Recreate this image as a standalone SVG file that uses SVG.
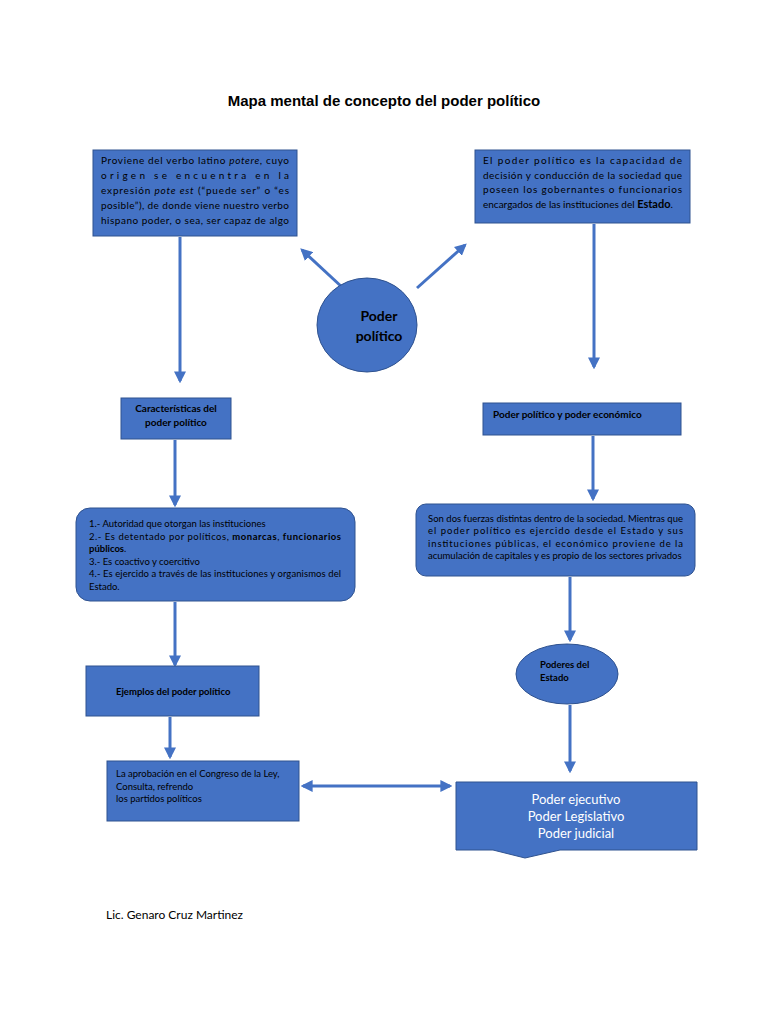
<svg xmlns="http://www.w3.org/2000/svg" width="768" height="1024" viewBox="0 0 768 1024">
<style>
.n{fill:#4472C4;stroke:#2F528F;stroke-width:1}
text{font-family:Lato,"Open Sans",sans-serif;fill:#000}
.s{font-size:9.5px}
.m{font-size:10px}
.b{font-weight:bold}
.w{fill:#fff;font-size:13px}
.c{stroke:#4472C4;stroke-width:3;fill:none}
</style>
<defs>
<marker id="a" viewBox="0 0 10 10" refX="8" refY="5" markerWidth="4" markerHeight="4" orient="auto-start-reverse"><path d="M0,0L10,5L0,10z" fill="#4472C4"/></marker>
</defs>
<rect width="768" height="1024" fill="#fff"/>
<text x="384" y="106" text-anchor="middle" style="font-family:'Liberation Sans',Arial,sans-serif;font-size:15px;font-weight:bold">Mapa mental de concepto del poder político</text>
<g id="connectors">
<line class="c" x1="343" y1="288" x2="302" y2="250" marker-end="url(#a)"/>
<line class="c" x1="417" y1="288" x2="465" y2="245" marker-end="url(#a)"/>
<line class="c" x1="180" y1="237" x2="180" y2="381" marker-end="url(#a)"/>
<line class="c" x1="594" y1="224" x2="594" y2="367" marker-end="url(#a)"/>
<line class="c" x1="175" y1="440" x2="175" y2="505" marker-end="url(#a)"/>
<line class="c" x1="593" y1="436" x2="593" y2="499" marker-end="url(#a)"/>
<line class="c" x1="175" y1="602" x2="175" y2="665" marker-end="url(#a)"/>
<line class="c" x1="570" y1="577" x2="570" y2="640" marker-end="url(#a)"/>
<line class="c" x1="170" y1="717" x2="170" y2="757" marker-end="url(#a)"/>
<line class="c" x1="570" y1="705" x2="570" y2="771" marker-end="url(#a)"/>
<line class="c" x1="303" y1="786" x2="450" y2="786" marker-start="url(#a)" marker-end="url(#a)"/>
</g>
<g id="n1">
<rect class="n" x="93" y="150" width="204" height="86"/>
<text class="m" x="101" y="164" textLength="188" lengthAdjust="spacing">Proviene del verbo latino <tspan font-style="italic">potere</tspan>, cuyo</text>
<text class="m" x="101" y="179" textLength="188" lengthAdjust="spacing">origen se encuentra en la</text>
<text class="m" x="101" y="194" textLength="188" lengthAdjust="spacing">expresión <tspan font-style="italic">pote est</tspan> (“puede ser” o “es</text>
<text class="m" x="101" y="209" textLength="188" lengthAdjust="spacing">posible”), de donde viene nuestro verbo</text>
<text class="m" x="101" y="224" textLength="188" lengthAdjust="spacing">hispano poder, o sea, ser capaz de algo</text>
</g>
<g id="n2">
<rect class="n" x="475" y="150" width="215" height="73"/>
<text class="m" x="483" y="164" textLength="199" lengthAdjust="spacing">El poder político es la capacidad de</text>
<text class="m" x="483" y="179" textLength="199" lengthAdjust="spacing">decisión y conducción de la sociedad que</text>
<text class="m" x="483" y="193" textLength="199" lengthAdjust="spacing">poseen los gobernantes o funcionarios</text>
<text class="m" x="483" y="208">encargados de las instituciones del <tspan font-weight="bold" font-size="11">Estado</tspan>.</text>
</g>
<g id="n3">
<ellipse class="n" cx="367" cy="325" rx="50" ry="47"/>
<text x="379" y="321" text-anchor="middle" font-size="14" font-weight="bold">Poder</text>
<text x="379" y="341" text-anchor="middle" font-size="14" font-weight="bold">político</text>
</g>
<g id="n4">
<rect class="n" x="121" y="398" width="110" height="41"/>
<text class="m b" x="176" y="412" text-anchor="middle">Características del</text>
<text class="m b" x="176" y="426" text-anchor="middle">poder político</text>
</g>
<g id="n5">
<rect class="n" x="483" y="403" width="198" height="32"/>
<text class="m b" x="493" y="418">Poder político y poder económico</text>
</g>
<g id="n6">
<rect class="n" x="76" y="508" width="279" height="93" rx="14"/>
<text class="s" x="89" y="527">1.- Autoridad que otorgan las instituciones</text>
<text class="s" x="89" y="540" textLength="252" lengthAdjust="spacing">2.- Es detentado por políticos, <tspan font-weight="bold">monarcas</tspan>, <tspan font-weight="bold">funcionarios</tspan></text>
<text class="s b" x="89" y="552">públicos<tspan font-weight="normal">.</tspan></text>
<text class="s" x="89" y="565">3.- Es coactivo y coercitivo</text>
<text class="s" x="89" y="577" textLength="252" lengthAdjust="spacing">4.- Es ejercido a través de las instituciones y organismos del</text>
<text class="s" x="89" y="590">Estado.</text>
</g>
<g id="n7">
<rect class="n" x="416" y="504" width="279" height="72" rx="10"/>
<text class="s" x="428" y="522" textLength="255" lengthAdjust="spacing">Son dos fuerzas distintas dentro de la sociedad. Mientras que</text>
<text class="s" x="428" y="534" textLength="255" lengthAdjust="spacing">el poder político es ejercido desde el Estado y sus</text>
<text class="s" x="428" y="547" textLength="255" lengthAdjust="spacing">instituciones públicas, el económico proviene de la</text>
<text class="s" x="428" y="559">acumulación de capitales y es propio de los sectores privados</text>
</g>
<g id="n8">
<rect class="n" x="86" y="666" width="173" height="50"/>
<text class="s b" x="116" y="695">Ejemplos del poder político</text>
</g>
<g id="n9">
<ellipse class="n" cx="567" cy="674" rx="51" ry="30"/>
<text class="s b" x="540" y="668">Poderes del</text>
<text class="s b" x="540" y="681">Estado</text>
</g>
<g id="n10">
<rect class="n" x="107" y="761" width="192" height="60"/>
<text class="s" x="116" y="777">La aprobación en el Congreso de la Ley,</text>
<text class="s" x="116" y="790">Consulta, refrendo</text>
<text class="s" x="116" y="802">los partidos políticos</text>
</g>
<g id="n11">
<path class="n" d="M456,782H697V850H560L525,858L493,850H456Z"/>
<text class="w" x="576" y="804" text-anchor="middle">Poder ejecutivo</text>
<text class="w" x="576" y="821" text-anchor="middle">Poder Legislativo</text>
<text class="w" x="576" y="838" text-anchor="middle">Poder judicial</text>
</g>
<text x="106" y="919" font-size="12">Lic. Genaro Cruz Martinez</text>
</svg>
